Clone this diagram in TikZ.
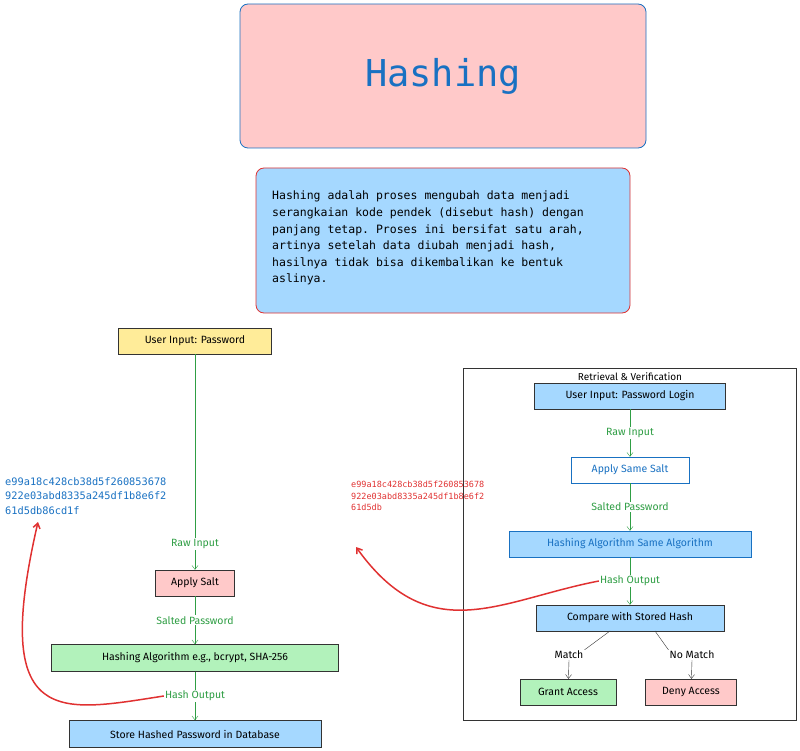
\documentclass[tikz,border=0pt]{standalone}
\usepackage{fontspec}
\setmainfont{Fira Sans}
\setmonofont{DejaVu Sans Mono}
\usetikzlibrary{positioning, arrows.meta, calc}
\definecolor{xred}{HTML}{FFC9C9}
\definecolor{xblue}{HTML}{A5D8FF}
\definecolor{xgreen}{HTML}{B2F2BB}
\definecolor{xyellow}{HTML}{FFEC99}
\definecolor{dblue}{HTML}{1971C2}
\definecolor{dred}{HTML}{E03131}
\definecolor{dgreen}{HTML}{2F9E44}
\tikzset{
    stepbox/.style={draw=black!80, thin, inner sep=0pt, font=\fontsize{10.5}{12}\selectfont},
    lbl/.style={fill=white, inner sep=1pt, text=dgreen, font=\fontsize{10.5}{12}\selectfont},
    flow/.style={draw=dgreen, -{Straight Barb[length=4pt,width=6pt]}},
    hashtxt/.style={align=left, anchor=north west, inner sep=0pt, font=\ttfamily\fontsize{10.3}{14.5}\selectfont}
}
\begin{document}
\begin{tikzpicture}[x=1pt, y=-1pt]
        \useasboundingbox (0,0) rectangle (800,751);

        % header
        \draw[draw=dblue, fill=xred, rounded corners=8pt, thick] (240,4) rectangle (646,148)
            node[midway, text=dblue, font=\ttfamily\fontsize{37}{40}\selectfont] (title) {Hashing};
        \draw[draw=dred, fill=xblue, rounded corners=8pt, thick] (256,168) rectangle (630,313);
        \node[anchor=north west, align=left, inner sep=0pt, font=\ttfamily\fontsize{11.5}{16.6}\selectfont] (desc) at (272,191)
            {Hashing adalah proses mengubah data menjadi\\
             serangkaian kode pendek (disebut hash) dengan\\
             panjang tetap. Proses ini bersifat satu arah,\\
             artinya setelah data diubah menjadi hash,\\
             hasilnya tidak bisa dikembalikan ke bentuk\\
             aslinya.};

        % storing
        \node[stepbox, fill=xyellow, minimum width=153pt, minimum height=26pt] (input) at (195,341) {User Input: Password};
        \node[stepbox, fill=xred, minimum width=79pt, minimum height=26pt] (salt) at (195,583) {Apply Salt};
        \node[stepbox, fill=xgreen, minimum width=287pt, minimum height=27pt] (hashalg) at (195,658) {Hashing Algorithm e.g., bcrypt, SHA-256};
        \node[stepbox, fill=xblue, minimum width=252pt, minimum height=27pt] (store) at (195,734) {Store Hashed Password in Database};

        \draw[flow] (input) -- node[lbl, pos=0.88] (raw1) {Raw Input} (salt);
        \draw[flow] (salt) -- node[lbl] (salted1) {Salted Password} (hashalg);
        \draw[flow] (hashalg) -- node[lbl] (out1) {Hash Output} (store);

        \node[hashtxt, text=dblue] (hash1) at (5,477) {e99a18c428cb38d5f260853678\\922e03abd8335a245df1b8e6f2\\61d5db86cd1f};
        \draw[dred, line width=1.5pt, -{Straight Barb[length=5pt,width=7pt]}] (out1.west) .. controls (60,712) and (-10,730) .. (38,522);

        % retrieval
        \draw[black!80] (463,368) rectangle (796,720);
        \node[font=\fontsize{10}{11}\selectfont, inner sep=0pt] (frame) at (630,377) {Retrieval \& Verification};
        \node[stepbox, fill=xblue, minimum width=191pt, minimum height=26pt] (login) at (630,396) {User Input: Password Login};
        \node[stepbox, draw=dblue, fill=white, text=dblue, minimum width=118pt, minimum height=26pt] (same) at (630,470) {Apply Same Salt};
        \node[stepbox, draw=dblue, fill=xblue, text=dblue, minimum width=242pt, minimum height=26pt] (samealg) at (630,544) {Hashing Algorithm Same Algorithm};
        \node[stepbox, fill=xblue, minimum width=188pt, minimum height=26pt] (compare) at (630,618) {Compare with Stored Hash};
        \node[stepbox, fill=xgreen, minimum width=96pt, minimum height=26pt] (grant) at (568,692) {Grant Access};
        \node[stepbox, fill=xred, minimum width=91pt, minimum height=26pt] (deny) at (691,692) {Deny Access};

        \draw[flow] (login) -- node[lbl] (raw2) {Raw Input} (same);
        \draw[flow] (same) -- node[lbl] (salted2) {Salted Password} (samealg);
        \draw[flow] (samealg) -- node[lbl] (out2) {Hash Output} (compare);
        \node[lbl, text=black] (match) at (569,655) {Match};
        \node[lbl, text=black] (nomatch) at (692,655) {No Match};
        \draw[black!80] (610,631) -- (match.north east);
        \draw[black!80, -{Straight Barb[length=4pt,width=6pt]}] (match.south) -- (grant);
        \draw[black!80] (655,631) -- (nomatch.north west);
        \draw[black!80, -{Straight Barb[length=4pt,width=6pt]}] (nomatch.south) -- (deny);

        \node[hashtxt, text=dred, font=\ttfamily\fontsize{8.5}{11.5}\selectfont] (hash2) at (351,481) {e99a18c428cb38d5f260853678\\922e03abd8335a245df1b8e6f2\\61d5db};
        \draw[dred, line width=1.5pt, -{Straight Barb[length=5pt,width=7pt]}] (out2.west) .. controls (500,600) and (430,650) .. (356,547);
\end{tikzpicture}
\end{document}
